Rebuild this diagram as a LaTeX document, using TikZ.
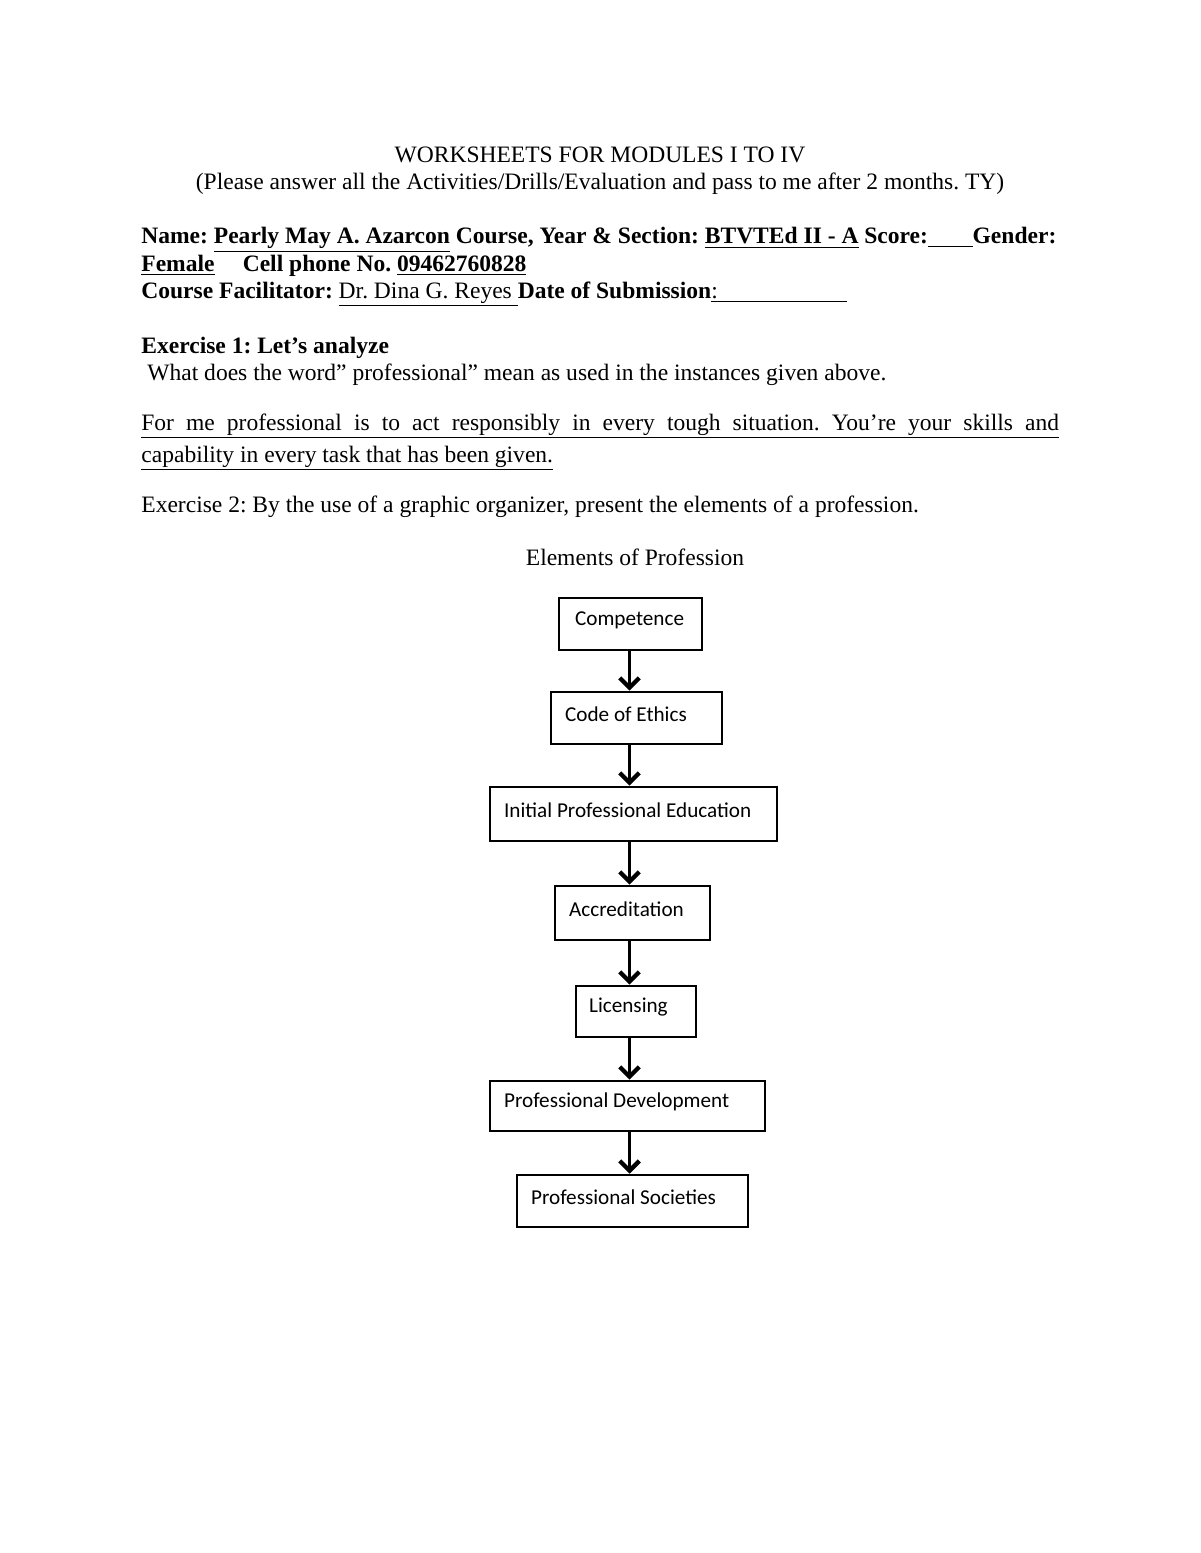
\documentclass[tikz,border=0pt]{standalone}
\usepackage{fontspec}
\setmainfont{Liberation Serif}
\newfontfamily\boxfont{Carlito}
\usetikzlibrary{arrows.meta}
\frenchspacing
\tikzset{
  px/.style={x=0.51pt,y=-0.51pt},
  txt/.style={inner sep=0pt, anchor=base west, font=\fontsize{12}{14}\selectfont},
  ctxt/.style={inner sep=0pt, anchor=base, font=\fontsize{12}{14}\selectfont},
  stepbox/.style={draw, line width=1.3pt, inner sep=0pt},
  boxlbl/.style={inner sep=0pt, anchor=west, font=\boxfont\fontsize{10.8}{13}\selectfont},
  arr/.style={line width=1.1pt, -{Straight Barb[length=5pt,width=10pt,line width=2.2pt]}}
}
\begin{document}
\begin{tikzpicture}[px]
\useasboundingbox (0,0) rectangle (1200,1553);
% header
\node[ctxt] (title) at (600,163) {WORKSHEETS FOR MODULES I TO IV};
\node[ctxt] (note) at (600,190) {(Please answer all the Activities/Drills/Evaluation and pass to me after 2 months. TY)};
\node[txt] (l1) at (141,244) {\textbf{Name: \underline{Pearly May A. Azarcon} Course, Year \& Section: \underline{BTVTEd II - A} Score:\underline{\hspace{1.9em}}Gender:}};
\node[txt] (l2) at (141,271) {\textbf{\underline{Female}\hspace{1.2em}Cell phone No. \underline{09462760828}}};
\node[txt] (l3) at (141,298) {\textbf{Course Facilitator:} \underline{Dr. Dina G. Reyes\ }\textbf{Date of Submission}\underline{:\hspace{5.5em}}};
\node[txt] (ex1) at (141,353) {\textbf{Exercise 1: Let’s analyze}};
\node[txt] (q1) at (147,380) {What does the word” professional” mean as used in the instances given above.};
\node[txt] (a1) at (141,430) {\underline{\hbox to 468pt{For me professional is to act responsibly in every tough situation. You’re your skills and}}};
\node[txt] (a2) at (141,462) {\underline{capability in every task that has been given.}};
\node[txt] (ex2) at (141,512) {Exercise 2: By the use of a graphic organizer, present the elements of a profession.};
\node[ctxt] (eltitle) at (635,565) {Elements of Profession};
% boxes
\node[stepbox, minimum width=143*0.51pt, minimum height=52*0.51pt] (b1) at (630.5,624) {};
\node[stepbox, minimum width=171*0.51pt, minimum height=52*0.51pt] (b2) at (636.5,718) {};
\node[stepbox, minimum width=287*0.51pt, minimum height=54*0.51pt] (b3) at (633.5,814) {};
\node[stepbox, minimum width=155*0.51pt, minimum height=54*0.51pt] (b4) at (632.5,913) {};
\node[stepbox, minimum width=120*0.51pt, minimum height=51*0.51pt] (b5) at (636,1011.5) {};
\node[stepbox, minimum width=275*0.51pt, minimum height=50*0.51pt] (b6) at (627.5,1106) {};
\node[stepbox, minimum width=231*0.51pt, minimum height=52*0.51pt] (b7) at (632.5,1201) {};
\node[boxlbl] (t1) at ([xshift=17*0.51pt,yshift=4*0.51pt]b1.west) {Competence};
\node[boxlbl] (t2) at ([xshift=15*0.51pt,yshift=4*0.51pt]b2.west) {Code of Ethics};
\node[boxlbl] (t3) at ([xshift=15*0.51pt,yshift=4*0.51pt]b3.west) {Initial Professional Education};
\node[boxlbl] (t4) at ([xshift=15*0.51pt,yshift=4*0.51pt]b4.west) {Accreditation};
\node[boxlbl] (t5) at ([xshift=14*0.51pt,yshift=4*0.51pt]b5.west) {Licensing};
\node[boxlbl] (t6) at ([xshift=15*0.51pt,yshift=4*0.51pt]b6.west) {Professional Development};
\node[boxlbl] (t7) at ([xshift=15*0.51pt,yshift=4*0.51pt]b7.west) {Professional Societies};
% connectors
\coordinate (ax) at (629.5,0);
\draw[arr] (b1.south -| ax) -- (b2.north -| ax);
\draw[arr] (b2.south -| ax) -- (b3.north -| ax);
\draw[arr] (b3.south -| ax) -- (b4.north -| ax);
\draw[arr] (b4.south -| ax) -- (b5.north -| ax);
\draw[arr] (b5.south -| ax) -- (b6.north -| ax);
\draw[arr] (b6.south -| ax) -- (b7.north -| ax);
\end{tikzpicture}
\end{document}
